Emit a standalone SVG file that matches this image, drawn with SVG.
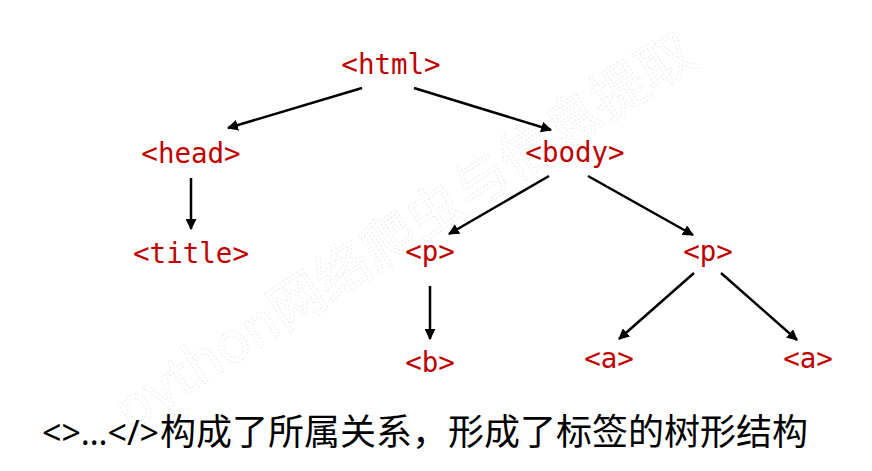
<svg xmlns="http://www.w3.org/2000/svg" width="872" height="471" viewBox="0 0 872 471">
<style>
.tag{font-family:"DejaVu Sans Mono","Liberation Mono",monospace;font-size:27.5px;fill:#C00000;text-anchor:middle}
.edge{stroke:#000;stroke-width:2.5;fill:none;marker-end:url(#ah)}
.cap{font-family:"Noto Sans CJK SC","Noto Sans",sans-serif;font-size:36px;fill:#000}
.lat{font-family:"Noto Sans","Liberation Sans",sans-serif;font-size:34px;fill:#000}
.wm{font-family:"Noto Sans CJK SC",sans-serif;font-size:55px;fill:none;stroke:#ebebeb;stroke-width:1;stroke-dasharray:2 2}
</style>
<defs>
<marker id="ah" viewBox="0 0 10 10" refX="9" refY="5" markerWidth="4.4" markerHeight="4.4" orient="auto" markerUnits="strokeWidth">
<path d="M0,0 L10,5 L0,10 z" fill="#000"/>
</marker>
</defs>
<rect width="872" height="471" fill="#fff"/>
<text class="wm" transform="translate(130,432) rotate(-33)">python网络爬虫与信息提取</text>
<g id="connectors">
<line class="edge" x1="362" y1="88" x2="228" y2="128"/>
<line class="edge" x1="414" y1="88" x2="551" y2="130"/>
<line class="edge" x1="191" y1="178" x2="191" y2="229"/>
<line class="edge" x1="549" y1="176" x2="449" y2="234"/>
<line class="edge" x1="588" y1="176" x2="693" y2="235"/>
<line class="edge" x1="430" y1="286" x2="430" y2="339"/>
<line class="edge" x1="694" y1="273" x2="619" y2="339"/>
<line class="edge" x1="721" y1="273" x2="797" y2="340"/>
</g>
<g id="n-html"><text class="tag" x="391" y="74">&lt;html&gt;</text></g>
<g id="n-head"><text class="tag" x="191" y="163">&lt;head&gt;</text></g>
<g id="n-body"><text class="tag" x="575" y="162">&lt;body&gt;</text></g>
<g id="n-title"><text class="tag" x="191" y="263">&lt;title&gt;</text></g>
<g id="n-p1"><text class="tag" x="430" y="261">&lt;p&gt;</text></g>
<g id="n-p2"><text class="tag" x="708" y="261">&lt;p&gt;</text></g>
<g id="n-b"><text class="tag" x="430" y="372">&lt;b&gt;</text></g>
<g id="n-a1"><text class="tag" x="609" y="368">&lt;a&gt;</text></g>
<g id="n-a2"><text class="tag" x="808" y="368">&lt;a&gt;</text></g>
<g id="caption">
<text class="lat" x="42" y="445" textLength="117" lengthAdjust="spacingAndGlyphs">&lt;&gt;…&lt;/&gt;</text>
<text class="cap" x="160" y="445">构成了所属关系，形成了标签的树形结构</text>
</g>
</svg>
